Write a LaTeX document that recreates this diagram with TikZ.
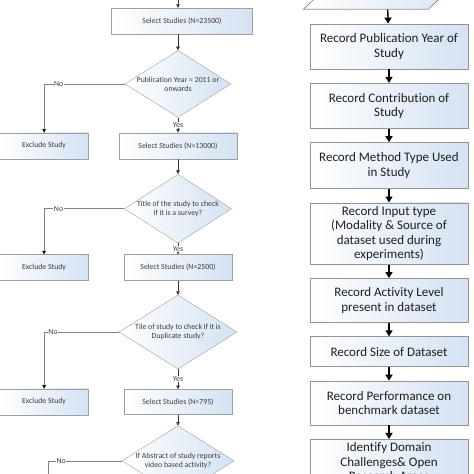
\documentclass[tikz,border=0pt]{standalone}
\usepackage{fontspec}
\setmainfont[Ligatures=NoCommon]{Carlito}
\usetikzlibrary{positioning}
\usetikzlibrary{shapes.geometric}
\usetikzlibrary{arrows.meta}
\definecolor{boxblue}{RGB}{212,226,243}
\definecolor{txtgray}{RGB}{60,60,60}
\newcommand{\Select}[1]{Select Studies (N=#1)}
\newcommand{\Exclude}{Exclude Study}
\newcommand{\Small}{\fontsize{7.8}{9}\selectfont}
\tikzstyle{selbox} = [rectangle,draw=gray!75,left color=white,right color=boxblue,text=txtgray,font=\Small,minimum height=26pt,inner sep=1pt]
\tikzstyle{decision} = [diamond,aspect=1.6,draw=gray!75,left color=white,right color=boxblue,text=txtgray,align=center,font=\Small,inner sep=0pt]
\tikzstyle{recbox} = [rectangle,draw=gray!85,line width=0.8pt,left color=white,right color=boxblue,text=black!88,align=center,font=\fontsize{13}{14.5}\selectfont,minimum width=158pt,minimum height=45pt,node distance=13.5pt]

\begin{document}
\begin{tikzpicture}[x=1pt, y=1pt,
    flow/.style={draw=black!80, line width=0.5pt, -{Triangle[width=3.5pt,length=3.5pt]}},
    nolink/.style={draw=gray, line width=0.6pt, -{Triangle[width=3.5pt,length=3.5pt,color=black]}},
    rflow/.style={draw=black, line width=1.4pt, -{Triangle[width=7pt,length=6pt]}},
    yeslbl/.style={fill=white, inner sep=0.5pt, font=\Small, text=txtgray},
    nolbl/.style={fill=white, inner sep=0.5pt, font=\Small, text=txtgray}]
\useasboundingbox (0,0) rectangle (474,-474);

% Define nodes (selection)
\coordinate (in) at (178,10);
\node[selbox, minimum width=141pt]                          (s1) at (182,-21) {\Select{23500}};
\node[decision, below=16pt of s1, xshift=-4pt, minimum width=106pt, minimum height=67pt] (d1) {Publication Year = 2011 or\\onwards};
\node[selbox, below=15pt of d1, minimum width=118pt]        (s2) {\Select{13000}};
\node[selbox, left=30pt of s2, minimum width=89pt]          (ex1) {\Exclude};
\node[decision, below=15pt of s2, minimum width=106pt, minimum height=69pt] (d2) {Title of the study to check\\if it is a survey?};
\node[selbox, below=11pt of d2, minimum width=108pt]        (s3) {\Select{2500}};
\node[selbox, left=35pt of s3, minimum width=89pt]          (ex2) {\Exclude};
\node[decision, below=14pt of s3, minimum width=118pt, minimum height=74pt] (d3) {Tile of study to check if it is\\Duplicate study?};
\node[selbox, below=20pt of d3, minimum width=108pt, minimum height=25pt] (s4) {\Select{795}};
\node[selbox, left=35pt of s4, minimum width=89pt]          (ex3) {\Exclude};
\node[decision, below=11pt of s4, minimum width=112pt, minimum height=70pt] (d4) {If Abstract of study reports\\video based activity?};
\coordinate (ex4) at (48,-500);

% Define nodes (recording)
\node[recbox]                                               (pub) at (389,-46.5) {Record Publication Year of\\Study};
\node[trapezium, trapezium left angle=63, trapezium right angle=117, trapezium stretches=true,
      draw=gray!85, line width=0.8pt, left color=white, right color=boxblue,
      minimum width=167pt, minimum height=40pt, above=14pt of pub, xshift=-2pt] (src) {};
\node[recbox, below=of pub]                                 (contrib) {Record Contribution of\\Study};
\node[recbox, below=of contrib, minimum height=46pt]        (method) {Record Method Type Used\\in Study};
\node[recbox, below=of method, minimum height=58pt]         (input) {Record Input type\\(Modality \& Source of\\dataset used during\\experiments)};
\node[recbox, below=of input, minimum height=44pt]          (activity) {Record Activity Level\\present in dataset};
\node[recbox, below=of activity, minimum height=30pt]       (size) {Record Size of Dataset};
\node[recbox, below=of size, minimum height=44pt]           (perf) {Record Performance on\\benchmark dataset};
\node[recbox, below=of perf]                                (open) {Identify Domain\\Challenges\& Open\\Research Areas};

% Edges
\draw[flow] (in) -- (in |- s1.north);
\draw[flow] (d1 |- s1.south) -- (d1);
\draw[flow] (d1) -- node[yeslbl] {Yes} (s2);
\draw[flow] (s2) -- (d2);
\draw[flow] (d2) -- node[yeslbl] {Yes} (s3);
\draw[flow] (s3) -- (d3);
\draw[flow] (d3) -- node[yeslbl] {Yes} (s4);
\draw[flow] (s4) -- (d4);
\draw[nolink] (d1.west) -| node[nolbl, pos=0.41] {No} (ex1.north);
\draw[nolink] (d2.west) -| node[nolbl, pos=0.41] {No} (ex2.north);
\draw[nolink] (d3.west) -| node[nolbl, pos=0.44] {No} (ex3.north);
\draw[nolink] (d4.west) -| node[nolbl, pos=0.41] {No} (ex4);

\draw[rflow] (src) -- (pub);
\draw[rflow] (pub) -- (contrib);
\draw[rflow] (contrib) -- (method);
\draw[rflow] (method) -- (input);
\draw[rflow] (input) -- (activity);
\draw[rflow] (activity) -- (size);
\draw[rflow] (size) -- (perf);
\draw[rflow] (perf) -- (open);
\end{tikzpicture}
\end{document}
